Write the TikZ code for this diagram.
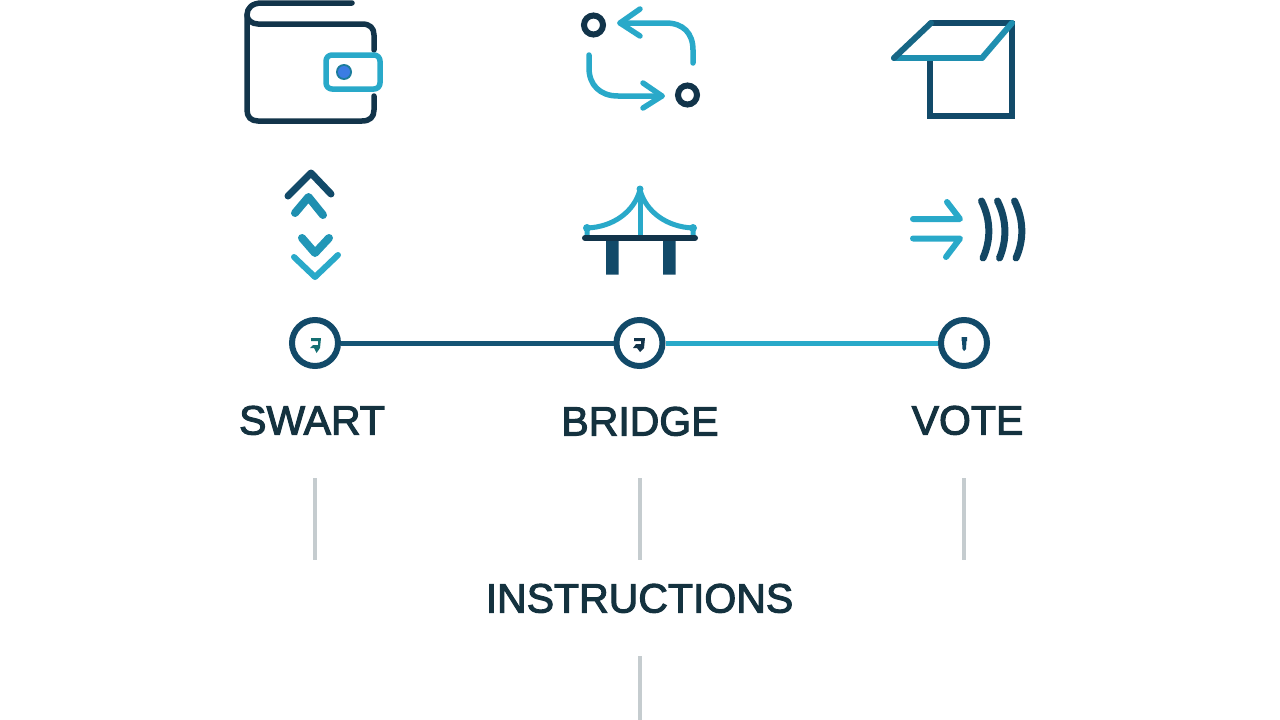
\documentclass[tikz,border=0pt]{standalone}
\usepackage{fontspec}
\setmainfont{Liberation Sans}
\newfontfamily\lblfont[FakeBold=2.6]{Liberation Sans}
\definecolor{navy}{HTML}{12344A}
\definecolor{deep}{HTML}{124A69}
\definecolor{teal}{HTML}{1F8FB0}
\definecolor{cyanl}{HTML}{29A9C9}
\definecolor{greyl}{HTML}{C5CCCF}
\definecolor{inkl}{HTML}{14323F}
\tikzset{
  icon/.style={line cap=round,line join=round,line width=5.5pt,draw=navy},
  lightstroke/.style={icon,draw=cyanl},
  stopnode/.style={circle,draw=deep,line width=6pt,minimum size=46pt,inner sep=0pt,fill=white},
  lbl/.style={text=inkl,font=\lblfont\fontsize{41}{41}\selectfont,inner sep=0pt,anchor=base},
  tick/.style={draw=greyl,line width=4pt},
  glyph/.style={fill=deep,draw=none}
}
\begin{document}
\begin{tikzpicture}[x=1pt,y=-1pt]
\useasboundingbox (0,0) rectangle (1280,720);
% wallet
\draw[icon] (352,3) -- (262,3) .. controls (252,3) and (247,8) .. (247,15) .. controls (247,20) and (252,24) .. (258,24) -- (362,24) .. controls (370,24) and (374,28) .. (374,35) -- (374,50);
\draw[icon] (374,96) -- (374,110) .. controls (374,117) and (370,121) .. (362,121) -- (258,121) .. controls (251,121) and (247,117) .. (247,110) -- (247,15);
\draw[lightstroke,line width=5.5pt,rounded corners=6pt] (326,55) rectangle (380,89);
\fill[teal!80!navy] (344,72) circle (8);
\fill[cyanl!60!blue!85!white] (344,72) circle (6);
% sync
\node[circle,draw=navy,line width=6pt,minimum size=19pt,inner sep=0pt] (ca) at (593.5,25) {};
\node[circle,draw=navy,line width=6pt,minimum size=19pt,inner sep=0pt] (cb) at (687.5,95) {};
\draw[lightstroke] (693,63) -- (693,50) .. controls (693,33) and (683,23) .. (666,23) -- (620,23);
\draw[lightstroke] (640,9) -- (620,23) -- (640,36);
\draw[lightstroke] (589,55) -- (589,68) .. controls (589,85) and (600,96) .. (618,96) -- (662,96);
\draw[lightstroke] (643,83) -- (662,96) -- (643,108);
% box
\draw[icon,draw=deep,line join=miter,line cap=butt,line width=6pt] (929.5,58) -- (929.5,116) -- (1012,116) -- (1012,21);
\draw[icon,draw=deep,line width=6pt] (931,23) -- (1012,23);
\draw[icon,draw=teal,line width=6pt] (1012,23) -- (982,58);
\draw[icon,draw=teal,line width=6pt] (982,58) -- (894,58);
\draw[icon,draw=deep!60!teal,line width=6pt] (894,58) -- (931,23);
% chevrons
\draw[icon,draw=deep,line width=7pt] (288,196) -- (311,173) -- (331,194);
\draw[icon,draw=teal,line width=8pt] (295,213) -- (308.5,197) -- (323,215);
\draw[icon,draw=teal!70!cyanl,line width=8pt] (302,238) -- (315,253) -- (329,238);
\draw[lightstroke,line width=6pt] (294,257) -- (315,277) -- (338,255);
% bridge
\draw[lightstroke,line width=5pt] (587,236) -- (587,228) .. controls (613,227) and (634,212) .. (640,190) .. controls (646,212) and (667,227) .. (693,228) -- (693,236);
\draw[lightstroke,line width=5pt] (640,189) -- (640,236);
\fill[cyanl] (640,189) circle (3.5) (587,228) circle (4) (693,228) circle (4);
\fill[deep] (606,238) rectangle (618.5,274.5) (663,238) rectangle (675.5,274.5);
\draw[icon,line width=6pt] (585,238) -- (695,238);
% vote
\draw[lightstroke,line width=6pt] (913,219) -- (960,219) -- (947,202);
\draw[lightstroke,line width=6pt] (913,238.5) -- (960,238.5) -- (946,257);
\draw[icon,draw=deep!80!navy,line width=7pt] (981.5,201) .. controls (991,220) and (991,240) .. (983,258);
\draw[icon,draw=deep!80!navy,line width=7pt] (997.5,201) .. controls (1007,220) and (1007,240) .. (999.5,258);
\draw[icon,draw=deep!80!navy,line width=7pt] (1014.5,201) .. controls (1024,220) and (1024,240) .. (1016,258);
% timeline
\node[stopnode] (n1) at (315,343) {};
\node[stopnode] (n2) at (639.5,343) {};
\node[stopnode] (n3) at (964,343) {};
\draw[draw=deep!85!teal,line width=5pt] (n1) -- (n2);
\draw[draw=cyanl,line width=5pt] (n2) -- (n3);
\fill[glyph,fill=deep!70!teal!90!green] (311,338) -- (321,338) -- (320,348) -- (316.5,353) -- (314,348) -- (310,348) -- (313,345) -- (318,345) -- (318,341) -- (311,341) -- cycle;
\fill[glyph,fill=navy] (634,338) -- (645,338) -- (644,348) -- (640,352) -- (637,348) -- (633,348) -- (636,344) -- (641,344) -- (641,341) -- (634,341) -- cycle;
\fill[glyph] (961.5,337) rectangle (967,341) (962,341) -- (966.5,341) -- (966,349) -- (964,351) -- (962.5,349) -- cycle;
% labels
\node[lbl] (t1) at (312,434.5) {SWART};
\node[lbl] (t2) at (640,435.5) {BRIDGE};
\node[lbl] (t3) at (967.5,434.5) {VOTE};
\node[lbl] (t4) at (639.5,612.5) {INSTRUCTIONS};
% ticks
\coordinate (a1) at (315,478); \coordinate (b1) at (315,560);
\coordinate (a2) at (639.5,478); \coordinate (b2) at (639.5,560);
\coordinate (a3) at (964,478); \coordinate (b3) at (964,560);
\coordinate (a4) at (639.5,656); \coordinate (b4) at (639.5,720);
\draw[tick] (a1) -- (b1);
\draw[tick] (a2) -- (b2);
\draw[tick] (a3) -- (b3);
\draw[tick] (a4) -- (b4);
\end{tikzpicture}
\end{document}
